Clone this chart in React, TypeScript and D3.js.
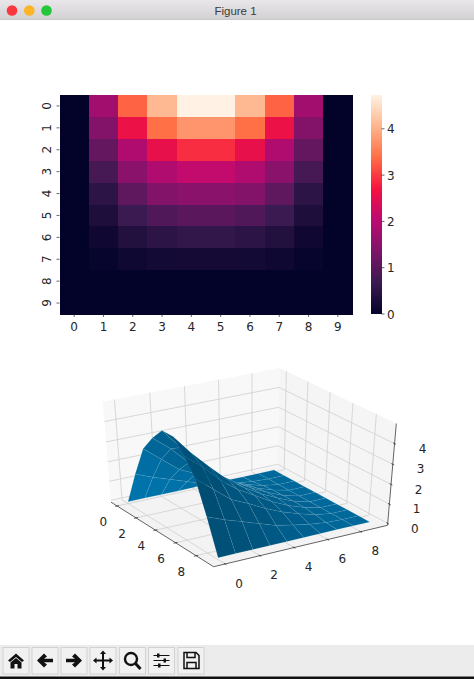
import React from "react";
import * as d3 from "d3";

const rows = d3.range(10);
const cols = d3.range(10);
const row0 = [0, 1.75, 3.3, 4.1, 4.73, 4.73, 4.1, 3.3, 1.75, 0];
const row1 = [0, 1.4, 2.6, 3.4, 3.75, 3.75, 3.4, 2.6, 1.4, 0];
const row2 = [0, 1.1, 1.9, 2.55, 2.9, 2.9, 2.55, 1.9, 1.1, 0];
const row3 = [0, 0.8, 1.5, 1.9, 2.1, 2.1, 1.9, 1.5, 0.8, 0];
const row4 = [0, 0.5, 1.05, 1.4, 1.5, 1.5, 1.4, 1.05, 0.5, 0];
const row5 = [0, 0.32, 0.68, 0.9, 1.0, 1.0, 0.9, 0.68, 0.32, 0];
const row6 = [0, 0.16, 0.38, 0.5, 0.58, 0.58, 0.5, 0.38, 0.16, 0];
const row7 = [0, 0.05, 0.14, 0.2, 0.22, 0.22, 0.2, 0.14, 0.05, 0];
const row8 = [0, 0, 0, 0, 0, 0, 0, 0, 0, 0];
const row9 = [0, 0, 0, 0, 0, 0, 0, 0, 0, 0];
const matrix = [row0, row1, row2, row3, row4, row5, row6, row7, row8, row9];
const colorbarTicks = [0, 1, 2, 3, 4];
const xyTicks3d = [0, 2, 4, 6, 8];
const zTicks3d = [0, 1, 2, 3, 4];
const rocketStops = ["#03032a", "#3a1a50", "#7d1468", "#bc0a72", "#f5123f", "#ff6e45", "#ffb58c", "#fff2e4"];
const surfaceBase = [0, 125, 186];
const vmax = 4.73;

const FONT = "'DejaVu Sans', sans-serif";
const TEXT = "#262626";

const rocket = d3.scaleLinear<string>()
  .domain(rocketStops.map((_, i) => (i / (rocketStops.length - 1)) * vmax))
  .range(rocketStops)
  .interpolate(d3.interpolateRgb);

type V3 = [number, number, number];
const elev = (35 * Math.PI) / 180;
const azim = (-32 * Math.PI) / 180;
const dist = 10;
const xw = d3.scaleLinear().domain([-0.45, 9.45]).range([0, 1]);
const zw = d3.scaleLinear().domain([0, 4.85]).range([0, 1]);
const eye: V3 = [
  0.5 + dist * Math.cos(elev) * Math.cos(azim),
  0.5 + dist * Math.cos(elev) * Math.sin(azim),
  0.5 + dist * Math.sin(elev),
];
const sub = (a: V3, b: V3): V3 => [a[0] - b[0], a[1] - b[1], a[2] - b[2]];
const dot = (a: V3, b: V3) => a[0] * b[0] + a[1] * b[1] + a[2] * b[2];
const cross = (a: V3, b: V3): V3 => [a[1] * b[2] - a[2] * b[1], a[2] * b[0] - a[0] * b[2], a[0] * b[1] - a[1] * b[0]];
const unit = (a: V3): V3 => { const n = Math.sqrt(dot(a, a)); return [a[0] / n, a[1] / n, a[2] / n]; };
const wDir = unit(sub(eye, [0.5, 0.5, 0.5]));
const uDir = unit(cross([0, 0, 1], wDir));
const vDir = cross(wDir, uDir);
const sx3 = d3.scaleLinear().domain([-0.095, 0.09]).range([59, 426]);
const sy3 = d3.scaleLinear().domain([-0.095, 0.09]).range([577, 358]);

const projW = (p: V3): [number, number, number] => {
  const d = sub(p, eye);
  const depth = -dot(d, wDir);
  const px = dot(d, uDir) / depth;
  const py = dot(d, vDir) / depth;
  return [sx3(px), sy3(py), depth];
};
const proj = (x: number, y: number, z: number) => projW([xw(x), xw(y), zw(z)]);
const path2 = (pts: number[][]) => "M" + pts.map((p) => `${p[0].toFixed(2)},${p[1].toFixed(2)}`).join("L") + "Z";
const line2 = (a: number[], b: number[]) => `M${a[0].toFixed(2)},${a[1].toFixed(2)}L${b[0].toFixed(2)},${b[1].toFixed(2)}`;

function Heatmap() {
  const x = d3.scaleBand<number>().domain(cols).range([59.5, 352.5]);
  const y = d3.scaleBand<number>().domain(rows).range([95, 314]);
  const cb = d3.scaleLinear().domain([0, vmax]).range([314, 95]);
  const steps = d3.range(0, 219);
  return (
    <g fontFamily={FONT} fontSize={12} fill={TEXT}>
      <g shapeRendering="crispEdges">
        {matrix.map((r, i) => r.map((v, j) => (
          <rect key={`${i}-${j}`} x={x(j)} y={y(i)} width={x.bandwidth() + 0.5} height={y.bandwidth() + 0.5} fill={rocket(v)} />
        )))}
      </g>
      {cols.map((c) => {
        const cx = x(c)! + x.bandwidth() / 2;
        return (
          <g key={c}>
            <line x1={cx} x2={cx} y1={314} y2={317} stroke={TEXT} strokeWidth={0.7} />
            <text x={cx} y={331} textAnchor="middle">{c}</text>
          </g>
        );
      })}
      {rows.map((r) => {
        const cy = y(r)! + y.bandwidth() / 2;
        return (
          <g key={r}>
            <line x1={56.5} x2={59.5} y1={cy} y2={cy} stroke={TEXT} strokeWidth={0.7} />
            <text transform={`translate(50.5,${cy}) rotate(-90)`} textAnchor="middle">{r}</text>
          </g>
        );
      })}
      <g shapeRendering="crispEdges">
        {steps.map((s) => (
          <rect key={s} x={370.5} y={95 + s} width={11} height={1.2} fill={rocket(cb.invert(95 + s + 0.5))} />
        ))}
      </g>
      {colorbarTicks.map((t) => (
        <g key={t}>
          <line x1={381.5} x2={384.5} y1={cb(t)} y2={cb(t)} stroke={TEXT} strokeWidth={0.7} />
          <text x={387} y={cb(t) + 4.5}>{t}</text>
        </g>
      ))}
    </g>
  );
}

function Surface() {
  const d = 1 / 48;
  const lo = -d, hi = 1 + d;
  const C = (a: number, b: number, c: number) => projW([a, b, c]);
  const panes = [
    { pts: [C(lo, lo, lo), C(lo, hi, lo), C(lo, hi, hi), C(lo, lo, hi)], fill: "#f8f8f8" },
    { pts: [C(lo, hi, lo), C(hi, hi, lo), C(hi, hi, hi), C(lo, hi, hi)], fill: "#f5f5f5" },
    { pts: [C(lo, lo, lo), C(hi, lo, lo), C(hi, hi, lo), C(lo, hi, lo)], fill: "#f3f3f3" },
  ];
  const grid: string[] = [];
  xyTicks3d.forEach((t) => {
    const w = xw(t);
    grid.push(path2([C(w, lo, lo), C(w, hi, lo), C(w, hi, hi)]).replace("Z", ""));
    grid.push(path2([C(lo, w, hi), C(lo, w, lo), C(hi, w, lo)]).replace("Z", ""));
  });
  zTicks3d.forEach((t) => {
    const w = zw(t);
    grid.push(path2([C(lo, lo, w), C(lo, hi, w), C(hi, hi, w)]).replace("Z", ""));
  });

  const faces: { pts: number[][]; depth: number; fill: string }[] = [];
  const light = unit([-1, -1, 0.5]);
  for (let i = 0; i < 9; i++) {
    for (let j = 0; j < 9; j++) {
      const q: V3[] = [[j, i, matrix[i][j]], [j + 1, i, matrix[i][j + 1]], [j + 1, i + 1, matrix[i + 1][j + 1]], [j, i + 1, matrix[i + 1][j]]];
      const pr = q.map((p) => proj(p[0], p[1], p[2]));
      const n = unit(cross(sub(q[2], q[0]), sub(q[3], q[1])));
      const f = 0.5 + ((dot(n, light) + 1) / 2) * 0.5;
      faces.push({
        pts: pr,
        depth: d3.mean(pr, (p) => p[2])!,
        fill: `rgb(${surfaceBase.map((c) => Math.round(c * f)).join(",")})`,
      });
    }
  }
  faces.sort((a, b) => b.depth - a.depth);

  const xAxisA = C(lo, lo, lo), xAxisB = C(hi, lo, lo), yAxisB = C(hi, hi, lo);
  const zA = C(hi, hi, lo), zB = C(hi, hi, hi);
  return (
    <g fontFamily={FONT} fontSize={12} fill={TEXT}>
      {panes.map((p, i) => <path key={i} d={path2(p.pts)} fill={p.fill} stroke="none" />)}
      {grid.map((g, i) => <path key={i} d={g} fill="none" stroke="#cfcfcf" strokeWidth={0.8} />)}
      <path d={line2(xAxisA, xAxisB)} stroke="#222" strokeWidth={0.7} />
      <path d={line2(xAxisB, yAxisB)} stroke="#222" strokeWidth={0.7} />
      <path d={line2(zA, zB)} stroke="#222" strokeWidth={0.7} />
      {faces.map((f, i) => <path key={i} d={path2(f.pts)} fill={f.fill} stroke="rgba(150,210,235,0.18)" strokeWidth={0.5} />)}
      {xyTicks3d.map((t) => {
        const b = C(xw(t), lo - 0.012, lo), c = C(xw(t), lo + 0.012, lo), l = C(xw(t), lo - 0.13, lo);
        return (
          <g key={t}>
            <path d={line2(b, c)} stroke="#222" strokeWidth={0.7} />
            <text x={l[0] + 8} y={l[1] + 15} textAnchor="middle">{t}</text>
          </g>
        );
      })}
      {xyTicks3d.map((t) => {
        const b = C(hi + 0.012, xw(t), lo), c = C(hi - 0.012, xw(t), lo), l = C(hi + 0.13, xw(t), lo);
        return (
          <g key={t}>
            <path d={line2(b, c)} stroke="#222" strokeWidth={0.7} />
            <text x={l[0]} y={l[1] + 15} textAnchor="middle">{t}</text>
          </g>
        );
      })}
      {zTicks3d.map((t) => {
        const b = C(hi + 0.012, hi, zw(t)), c = C(hi - 0.012, hi, zw(t)), l = C(hi + 0.1, hi + 0.06, zw(t));
        return (
          <g key={t}>
            <path d={line2(b, c)} stroke="#222" strokeWidth={0.7} />
            <text x={l[0] + 6} y={l[1] + 5.5} textAnchor="middle">{t}</text>
          </g>
        );
      })}
    </g>
  );
}

const toolbarButtons = [3, 32, 61, 90, 119.5, 148.5, 178];

function Chrome() {
  return (
    <g>
      <defs>
        <linearGradient id="tb" x1="0" x2="0" y1="0" y2="1">
          <stop offset="0" stopColor="#e9e7e9" />
          <stop offset="1" stopColor="#d2d0d2" />
        </linearGradient>
      </defs>
      <rect x={0} y={0} width={474} height={19.5} fill="url(#tb)" />
      <line x1={0} x2={474} y1={19.5} y2={19.5} stroke="#bdbcbd" strokeWidth={0.7} />
      <circle cx={12} cy={10.5} r={5.3} fill="#f9393f" />
      <circle cx={29.3} cy={10.5} r={5.3} fill="#fcb524" />
      <circle cx={46.5} cy={10.5} r={5.3} fill="#25c63c" />
      <text x={235.5} y={15} textAnchor="middle" fontFamily="'Liberation Sans', sans-serif" fontSize={11.5} fill="#3a3a3a">Figure 1</text>
      <rect x={0} y={645} width={474} height={34} fill="#ececec" />
      <rect x={0} y={676.5} width={474} height={2.5} fill="#111" />
      {toolbarButtons.map((x, i) => (
        <g key={i} transform={`translate(${x},647.5)`}>
          <rect x={0} y={0} width={26} height={26.5} fill="#f1f1f1" stroke="#d2d2d2" strokeWidth={1} />
          <g transform="translate(13,13)" fill="#111" stroke="#111">
            {i === 0 && <path d="M-8,0L0,-7L8,0L6,1.5L0,-3.5L-6,1.5ZM-5.5,2L0,-2.5L5.5,2V8H1.5V3.5H-1.5V8H-5.5Z" stroke="none" />}
            {i === 1 && <path d="M-8,0L-1,-7L2,-4L-1,-1.7H8V1.7H-1L2,4L-1,7Z" stroke="none" />}
            {i === 2 && <path d="M8,0L1,-7L-2,-4L1,-1.7H-8V1.7H1L-2,4L1,7Z" stroke="none" />}
            {i === 3 && <path d="M0,-10L3,-6.5H1V-1H6.5V-3L10,0L6.5,3V1H1V6.5H3L0,10L-3,6.5H-1V1H-6.5V3L-10,0L-6.5,-3V-1H-1V-6.5H-3Z" stroke="none" />}
            {i === 4 && (
              <g fill="none" strokeWidth={2.4}>
                <circle cx={-1.5} cy={-1.5} r={6} />
                <line x1={3} y1={3} x2={8} y2={8.5} strokeWidth={3} />
              </g>
            )}
            {i === 5 && (
              <g strokeWidth={1}>
                <line x1={-8} x2={8} y1={-5} y2={-5} />
                <line x1={-8} x2={8} y1={0} y2={0} />
                <line x1={-8} x2={8} y1={5} y2={5} />
                <rect x={-4.5} y={-7} width={2.5} height={4} stroke="none" />
                <rect x={2} y={-2} width={2.5} height={4} stroke="none" />
                <rect x={-3.5} y={3} width={2.5} height={4} stroke="none" />
              </g>
            )}
            {i === 6 && (
              <g fill="none" strokeWidth={1.5}>
                <path d="M-7,-8H5L8,-5V8H-7Z" />
                <path d="M-4,-8V-3H4V-8" />
                <path d="M-4,8V2H5V8" />
              </g>
            )}
          </g>
        </g>
      ))}
    </g>
  );
}

export default function App() {
  return (
    <svg width={474} height={679} viewBox="0 0 474 679" style={{ position: "absolute", left: 0, top: 0, background: "#fff" }}>
      <Chrome />
      <Heatmap />
      <Surface />
    </svg>
  );
}
